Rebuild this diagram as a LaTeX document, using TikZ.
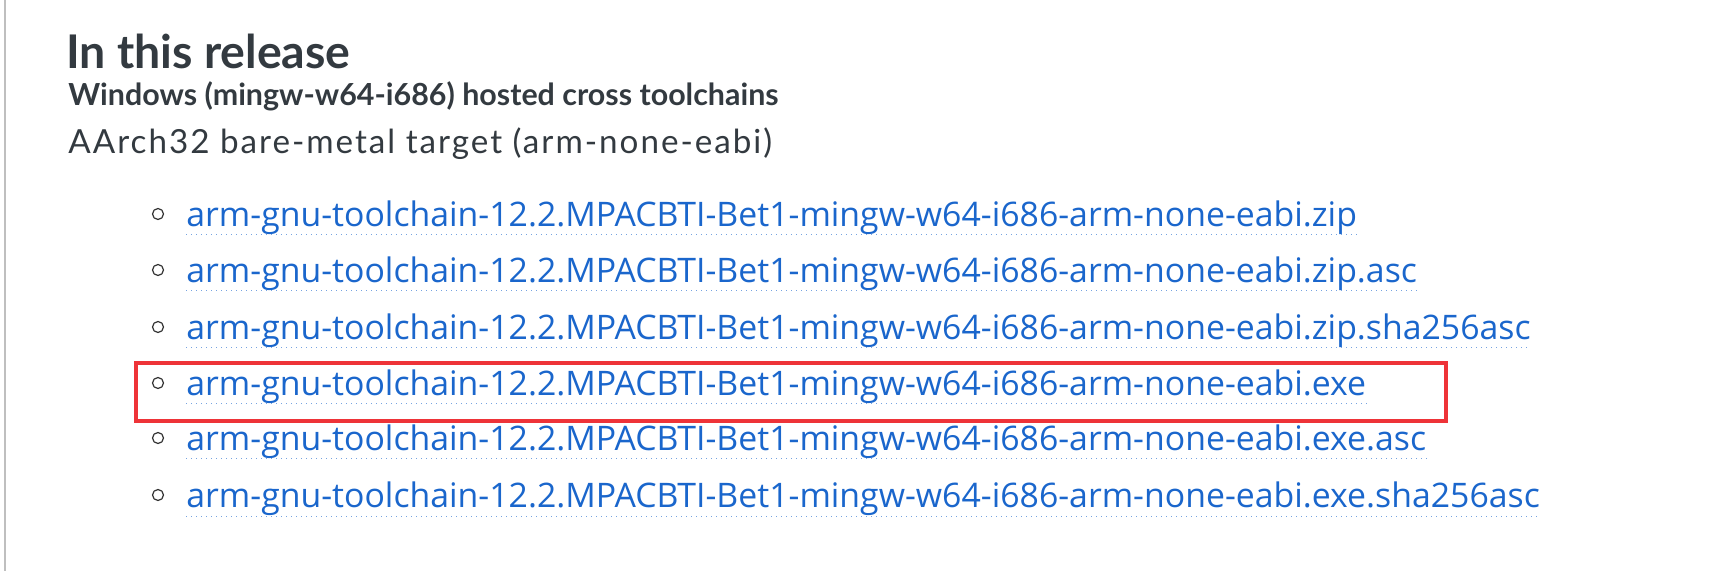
\documentclass[tikz,border=0pt]{standalone}
\usepackage{fontspec}
\setmainfont{Lato}
\newfontfamily\linkfont{Open Sans}
\newfontfamily\spacedfont[LetterSpace=6]{Lato}
\definecolor{hd}{HTML}{333A40}
\definecolor{lk}{HTML}{1A66CC}
\definecolor{rb}{HTML}{EE3338}
\begin{document}
\begin{tikzpicture}[x=0.5pt,y=-0.5pt,
  lnk/.style={anchor=base west,inner sep=0,text=lk,font=\linkfont\fontsize{16.9pt}{19pt}\selectfont},
  bul/.style={draw=black!80,line width=0.6pt,circle,minimum size=5.5pt,inner sep=0},
  und/.style={draw=lk!60,dotted,line width=0.5pt}]
\fill[white] (0,0) rectangle (1735,571);
\useasboundingbox (0,0) rectangle (1735,571);
\draw[black!25,line width=0.8pt] (5,0) -- (5,571);
\node[anchor=base west,inner sep=0,text=hd,font=\bfseries\fontsize{23.2pt}{26pt}\selectfont] (t) at (66,69) {In this release};
\node[anchor=base west,inner sep=0,text=hd,font=\bfseries\fontsize{15.2pt}{18pt}\selectfont] (s) at (68,106) {Windows (mingw-w64-i686) hosted cross toolchains};
\node[anchor=base west,inner sep=0,text=hd,font=\spacedfont\fontsize{16.6pt}{19pt}\selectfont] (a) at (68,154) {AArch32 bare-metal target (arm-none-eabi)};
\foreach \i/\y/\t in {1/227/arm-gnu-toolchain-12.2.MPACBTI-Bet1-mingw-w64-i686-arm-none-eabi.zip,
  2/283/arm-gnu-toolchain-12.2.MPACBTI-Bet1-mingw-w64-i686-arm-none-eabi.zip.asc,
  3/340/arm-gnu-toolchain-12.2.MPACBTI-Bet1-mingw-w64-i686-arm-none-eabi.zip.sha256asc,
  4/396/arm-gnu-toolchain-12.2.MPACBTI-Bet1-mingw-w64-i686-arm-none-eabi.exe,
  5/451/arm-gnu-toolchain-12.2.MPACBTI-Bet1-mingw-w64-i686-arm-none-eabi.exe.asc,
  6/508/arm-gnu-toolchain-12.2.MPACBTI-Bet1-mingw-w64-i686-arm-none-eabi.exe.sha256asc}{
  \node[lnk] (l\i) at (186,\y) {\t};
  \node[bul] (b\i) at (158,\y-13) {};
  \draw[und] ([yshift=-4pt]l\i.base west) -- ([yshift=-4pt]l\i.base east);
}
\draw[rb,line width=2.2pt] (136,363) rectangle (1446,421);
\end{tikzpicture}
\end{document}
